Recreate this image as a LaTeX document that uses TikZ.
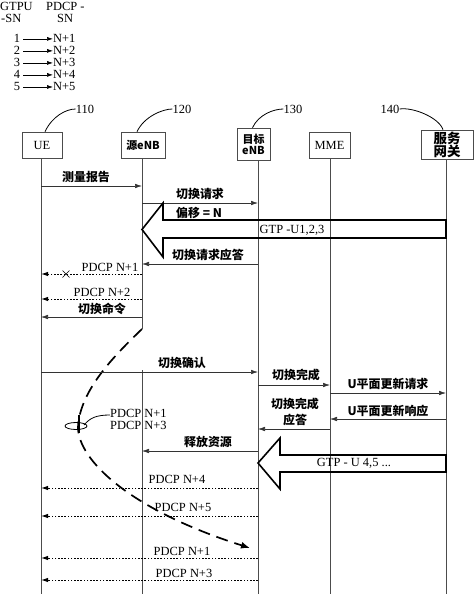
\documentclass[tikz,border=0pt]{standalone}
\usepackage{fontspec}
\setmainfont{Liberation Serif}
\newfontfamily\cjk{Noto Sans CJK SC}
\usetikzlibrary{arrows.meta}
\begin{document}
\begin{tikzpicture}[x=1bp,y=-1bp,
  box/.style={draw=black!70, line width=0.6bp, inner sep=0pt, align=center, font=\fontsize{12.5}{12}\selectfont},
  cbox/.style={box, font=\cjk\bfseries\fontsize{11}{12}\selectfont},
  life/.style={draw=black!70, line width=0.6bp},
  msg/.style={draw=black!80, line width=0.6bp, -{Latex[length=7bp,width=4.5bp]}},
  dmsg/.style={draw=black, line width=1bp, dash pattern=on 1.6bp off 1.6bp, -{Latex[length=7bp,width=4.5bp]}},
  lbl/.style={inner sep=0pt, align=center, font=\cjk\bfseries\fontsize{12}{16}\selectfont},
  tlbl/.style={inner sep=0pt, font=\fontsize{12.5}{12}\selectfont},
  legarrow/.style={draw=black, line width=0.6bp, -{Latex[length=6bp,width=4bp]}},
  leader/.style={draw=black, line width=0.8bp},
  big/.style={draw=black, line width=1.6bp, line join=miter},
  handover/.style={draw=black, line width=1.7bp, dash pattern=on 12bp off 7bp, -{Latex[length=9bp,width=7bp]}}]
\useasboundingbox (0,0) rectangle (474,594);

% legend
\node[tlbl, anchor=base west] (hg) at (0,10.5) {GTPU};
\node[tlbl, anchor=base west] (hg2) at (1,22.5) {-SN};
\node[tlbl, anchor=base west] (hp) at (46,10.5) {PDCP -};
\node[tlbl, anchor=base west] (hp2) at (57,22.5) {SN};
\foreach \i/\yy in {1/43,2/55,3/67,4/79,5/91}{
  \node[tlbl, anchor=base] (g\i) at (17,\yy) {\i};
  \node[tlbl, anchor=base west] (p\i) at (53,\yy) {N+\i};
  \draw[legarrow] ([xshift=3bp]g\i.east) -- (p\i.west);
}

% boxes
\node[box, minimum width=40bp, minimum height=26bp] (ue) at (42,145) {UE};
\node[cbox, minimum width=44bp, minimum height=26bp] (src) at (143,145) {源eNB};
\node[cbox, minimum width=33bp, minimum height=32bp] (tgt) at (253.5,144) {目标\\[-1bp]eNB};
\node[box, minimum width=41bp, minimum height=26bp] (mme) at (329.5,145) {MME};
\node[cbox, minimum width=52bp, minimum height=29bp, font=\cjk\bfseries\fontsize{13.5}{13}\selectfont] (gw) at (447,144.5) {服务\\网关};

% reference numbers
\node[tlbl] (n110) at (85,109) {110};
\node[tlbl] (n120) at (182,109) {120};
\node[tlbl] (n130) at (293,109) {130};
\node[tlbl] (n140) at (390,109) {140};
\draw[leader] ([xshift=3bp]ue.north) .. controls +(7,-15) and +(-10,0) .. (n110.west);
\draw[leader] ([xshift=-6bp]src.north) .. controls +(7,-15) and +(-10,0) .. (n120.west);
\draw[leader] ([xshift=-1bp]tgt.north) .. controls +(6,-13) and +(-10,0) .. (n130.west);
\draw[leader] (n140.east) .. controls +(14,-2) and +(-4,-12) .. ([xshift=-4bp]gw.north);

% lifelines
\coordinate (u) at (ue.south -| 41,0);
\coordinate (s) at (src.south -| 142,0);
\coordinate (t) at (tgt.south -| 258,0);
\coordinate (m) at (mme.south -| 330,0);
\coordinate (g) at (gw.south -| 446,0);
\draw[life] (u) -- (u |- 0,594);
\draw[life] (s) -- (s |- 0,329);
\draw[life] (s |- 0,370) -- (s |- 0,594);
\draw[life] (t) -- (t |- 0,594);
\draw[life] (m) -- (m |- 0,594);
\draw[life] (g) -- (g |- 0,594);

% messages
\node[lbl] (l1) at (86,177) {测量报告};
\draw[msg] (u |- 0,186) -- (s |- 0,186);
\node[lbl] (l2) at (200,194) {切换请求};
\draw[msg] (s |- 0,203) -- (t |- 0,203);
\node[lbl, anchor=west] (l3) at (176,213) {偏移 = N};

% big arrow 1
\draw[big] (g |- 0,220) -- (163,220) -- (163,203) -- (s |- 0,229.5) -- (163,257) -- (163,238) -- (g |- 0,238) -- cycle;
\node[tlbl] (gtp1) at (292,230) {GTP -U1,2,3};

\node[lbl] (l4) at (208,255) {切换请求应答};
\draw[msg] (t |- 0,264) -- (s |- 0,264);
\node[tlbl] (l5) at (110,267) {PDCP N+1};
\draw[dmsg] (s |- 0,274) -- (u |- 0,274);
\draw[line width=0.7bp] (62.5,270.5) -- (69.5,277.5) (62.5,277.5) -- (69.5,270.5);
\node[tlbl] (l6) at (102,292) {PDCP N+2};
\draw[dmsg] (s |- 0,299) -- (u |- 0,299);
\node[lbl] (l7) at (102,309) {切换命令};
\draw[msg] (s |- 0,317) -- (u |- 0,317);

% handover path
\draw[handover] (s |- 0,329) .. controls (115,355) and (80,390) .. (78,427)
   .. controls (78,460) and (130,510) .. (250,548);
\draw[line width=1.7bp] (79,415) -- (79,433);
\draw[line width=0.8bp] (76,426) ellipse [x radius=11, y radius=3.5];
\node[tlbl, anchor=west, align=left] (pd) at (110,419) {PDCP N+1\\PDCP N+3};
\draw[leader] (84,425) .. controls (90,418) and (96,415) .. (pd.west |- 0,415);

\node[lbl] (l8) at (182,363) {切换确认};
\draw[msg] (u |- 0,372) -- (t |- 0,372);
\node[lbl] (l9) at (296,375) {切换完成};
\draw[msg] (t |- 0,385) -- (m |- 0,385);
\node[lbl] (l10) at (388,384) {U平面更新请求};
\draw[msg] (m |- 0,393) -- (g |- 0,393);
\node[lbl] (l11) at (295,411.5) {切换完成\\应答};
\draw[msg] (m |- 0,429) -- (t |- 0,429);
\node[lbl] (l12) at (388,411) {U平面更新响应};
\draw[msg] (g |- 0,419) -- (m |- 0,419);
\node[lbl] (l13) at (208,442) {释放资源};
\draw[msg] (t |- 0,451) -- (s |- 0,451);

% big arrow 2
\draw[big] (g |- 0,455) -- (280,455) -- (280,438) -- (t |- 0,463) -- (280,489) -- (280,472) -- (g |- 0,472) -- cycle;
\node[tlbl] (gtp2) at (354,463) {GTP - U 4,5 ...};

\node[tlbl] (l14) at (177,479) {PDCP N+4};
\draw[dmsg] (t |- 0,488) -- (u |- 0,488);
\node[tlbl] (l15) at (183,507) {PDCP N+5};
\draw[dmsg] (t |- 0,516) -- (u |- 0,516);
\node[tlbl] (l16) at (182,551) {PDCP N+1};
\draw[dmsg] (t |- 0,558) -- (u |- 0,558);
\node[tlbl] (l17) at (184,573) {PDCP N+3};
\draw[dmsg] (t |- 0,580) -- (u |- 0,580);
\end{tikzpicture}
\end{document}
